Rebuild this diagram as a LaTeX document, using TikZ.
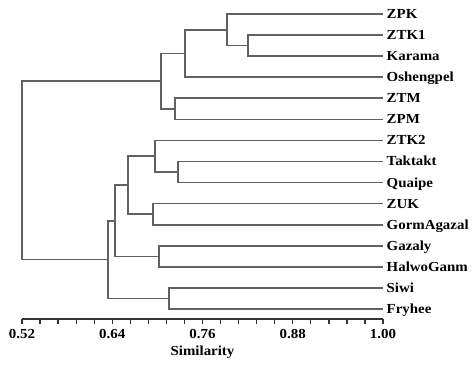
\documentclass[tikz,border=0pt]{standalone}
\usepackage{fontspec}
\setmainfont{Liberation Serif}[FakeStretch=1.08]
\begin{document}
\begin{tikzpicture}[x=1pt,y=-1pt,
  tree/.style={draw=black!62, line width=1.6pt, line cap=rect},
  axisline/.style={draw=black!80, line width=1.3pt},
  leaflabel/.style={anchor=base west, inner sep=0pt, font=\fontsize{13.8}{16}\selectfont\bfseries},
  ticklabel/.style={anchor=base, inner sep=0pt, font=\fontsize{13.8}{16}\selectfont\bfseries},
  axistitle/.style={anchor=base, inner sep=0pt, font=\fontsize{13.8}{16}\selectfont\bfseries}]
\useasboundingbox[fill=white] (0,0) rectangle (474,373);
% leaves
\coordinate (ZPK) at (382,14);
\coordinate (ZTK1) at (382,35.07);
\coordinate (Karama) at (382,56.14);
\coordinate (Oshengpel) at (382,77.21);
\coordinate (ZTM) at (382,98.28);
\coordinate (ZPM) at (382,119.35);
\coordinate (ZTK2) at (382,140.42);
\coordinate (Taktakt) at (382,161.49);
\coordinate (Quaipe) at (382,182.56);
\coordinate (ZUK) at (382,203.63);
\coordinate (GormAgazal) at (382,224.7);
\coordinate (Gazaly) at (382,245.77);
\coordinate (HalwoGanm) at (382,266.84);
\coordinate (Siwi) at (382,287.91);
\coordinate (Fryhee) at (382,308.98);
% labels
\foreach \n/\t in {ZPK/ZPK, ZTK1/ZTK1, Karama/Karama, Oshengpel/Oshengpel, ZTM/ZTM, ZPM/ZPM, ZTK2/ZTK2, Taktakt/Taktakt, Quaipe/Quaipe, ZUK/ZUK, GormAgazal/GormAgazal, Gazaly/Gazaly, HalwoGanm/HalwoGanm, Siwi/Siwi, Fryhee/Fryhee}
  \node[leaflabel] (l\n) at ([xshift=4.5pt,yshift=-4.5pt]\n) {\t};
% merges
\coordinate (m1) at (248,45.6);
\coordinate (m2) at (227,29.8);
\coordinate (m3) at (185,53.5);
\coordinate (m4) at (175,108.8);
\coordinate (m5) at (161,81.2);
\coordinate (m6) at (178,172.0);
\coordinate (m7) at (155,156.2);
\coordinate (m8) at (153,214.2);
\coordinate (m9) at (128,185.2);
\coordinate (m10) at (159,256.3);
\coordinate (m11) at (115,220.7);
\coordinate (m12) at (169,298.4);
\coordinate (m13) at (108,259.6);
\coordinate (root) at (22,170.4);
\draw[tree] (ZTK1) -| (m1) |- (Karama);
\draw[tree] (ZPK) -| (m2) |- (m1);
\draw[tree] (m2) -| (m3) |- (Oshengpel);
\draw[tree] (ZTM) -| (m4) |- (ZPM);
\draw[tree] (m3) -| (m5) |- (m4);
\draw[tree] (Taktakt) -| (m6) |- (Quaipe);
\draw[tree] (ZTK2) -| (m7) |- (m6);
\draw[tree] (ZUK) -| (m8) |- (GormAgazal);
\draw[tree] (m7) -| (m9) |- (m8);
\draw[tree] (Gazaly) -| (m10) |- (HalwoGanm);
\draw[tree] (m9) -| (m11) |- (m10);
\draw[tree] (Siwi) -| (m12) |- (Fryhee);
\draw[tree] (m11) -| (m13) |- (m12);
\draw[tree] (m5) -| (root) |- (m13);
% axis
\coordinate (a0) at (22,319);
\coordinate (a1) at (383,319);
\draw[axisline] (a0) -- (a1);
\foreach \i in {0,...,20} {
  \pgfmathsetmacro{\xx}{22+18.05*\i}
  \draw[axisline] (\xx,319) -- (\xx,324);
}
\foreach \i/\t in {0/0.52, 1/0.64, 2/0.76, 3/0.88, 4/1.00} {
  \pgfmathsetmacro{\xx}{22+90.25*\i}
  \node[ticklabel] (t\i) at (\xx,338) {\t};
}
\node[axistitle] (title) at (202.5,355.5) {Similarity};
\end{tikzpicture}
\end{document}
